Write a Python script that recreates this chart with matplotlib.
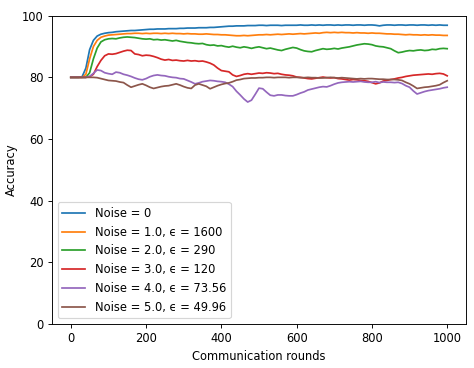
import matplotlib
matplotlib.use("Agg")
import matplotlib.pyplot as plt

rounds = list(range(0, 1001, 10))

noise_0 = [80, 80, 80, 80.2, 83, 89, 92, 93.4, 94.0, 94.3,
           94.5, 94.6, 94.8, 94.9, 95.0, 95.1, 95.2, 95.2, 95.3, 95.4,
           95.5, 95.6, 95.6, 95.7, 95.7, 95.7, 95.8, 95.8, 95.8, 95.9,
           95.9, 96.0, 96.0, 96.0, 96.1, 96.1, 96.1, 96.2, 96.2, 96.3,
           96.4, 96.5, 96.6, 96.6, 96.7, 96.7, 96.7, 96.8, 96.8, 96.8,
           96.9, 96.9, 96.8, 96.9, 96.9, 96.9, 96.8, 96.9, 96.9, 96.9,
           96.9, 97.0, 96.9, 96.9, 97.0, 96.9, 97.0, 96.9, 97.0, 97.0,
           96.9, 97.0, 96.9, 97.0, 97.0, 96.9, 97.0, 97.0, 96.9, 97.0,
           97.0, 96.9, 96.7, 96.9, 97.0, 97.0, 96.9, 97.0, 97.0, 96.9,
           97.0, 97.0, 96.9, 97.0, 97.0, 96.9, 97.0, 96.9, 97.0, 96.9,
           96.9]

noise_1 = [80, 80, 80, 80, 81, 86, 90, 92, 93, 93.4,
           93.7, 93.8, 93.9, 94.0, 94.1, 94.2, 94.2, 94.3, 94.3, 94.2,
           94.3, 94.2, 94.3, 94.3, 94.2, 94.3, 94.2, 94.3, 94.2, 94.2,
           94.1, 94.2, 94.1, 94.1, 94.0, 94.0, 94.1, 94.0, 93.9, 93.9,
           93.8, 93.8, 93.7, 93.6, 93.5, 93.5, 93.6, 93.5, 93.6, 93.7,
           93.8, 93.8, 93.9, 93.8, 93.9, 94.0, 93.9, 94.0, 94.1, 94.0,
           94.1, 94.2, 94.1, 94.2, 94.3, 94.4, 94.3, 94.5, 94.6, 94.5,
           94.6, 94.5, 94.6, 94.5, 94.5, 94.4, 94.5, 94.4, 94.4, 94.3,
           94.4, 94.3, 94.3, 94.2, 94.1, 94.1, 94.0, 94.0, 93.9, 93.8,
           93.9, 93.8, 93.8, 93.7, 93.8, 93.7, 93.8, 93.7, 93.7, 93.6,
           93.6]

noise_2 = [80, 80, 80, 80, 80, 81.5, 86, 89.5, 91.5, 92.2,
           92.5, 92.6, 92.5, 92.8, 93.0, 93.1, 93.0, 92.9, 92.7, 92.5,
           92.4, 92.5, 92.2, 92.3, 92.1, 92.2, 92.0, 91.8, 92.0, 91.7,
           91.5, 91.3, 91.2, 91.0, 90.9, 91.0, 90.6, 90.4, 90.5, 90.2,
           90.3, 90.0, 89.8, 90.1, 89.8, 89.6, 89.9, 89.7, 89.4, 89.7,
           89.9, 89.6, 89.3, 89.5, 89.2, 88.9, 88.7, 89.1, 89.4, 89.7,
           89.5, 89.0, 88.6, 88.4, 88.3, 88.7, 89.0, 89.3, 89.1, 89.2,
           89.4, 89.2, 89.5, 89.7, 89.9, 90.2, 90.5, 90.7, 90.9, 90.8,
           90.6, 90.2, 90.0, 89.9, 89.6, 89.3, 88.6, 88.0, 88.2, 88.5,
           88.7, 88.6, 88.8, 88.9, 88.7, 88.8, 89.1, 89.0, 89.3, 89.4,
           89.3]

noise_3 = [80, 80, 80, 80, 80, 80.2, 81, 83.5, 85.5, 87,
           87.6, 87.5, 87.7, 88.1, 88.5, 88.8, 88.7, 87.6, 87.4, 87.0,
           87.2, 87.1, 86.8, 86.4, 85.9, 85.6, 85.8, 85.5, 85.6, 85.4,
           85.3, 85.5, 85.3, 85.4, 85.2, 85.3, 85.0, 84.6, 84.0, 83.0,
           82.2, 82.0, 81.8, 80.8, 80.3, 80.6, 81.0, 81.2, 81.0, 81.2,
           81.4, 81.3, 81.5, 81.4, 81.2, 81.3, 81.0, 80.8, 80.7, 80.5,
           80.1, 80.0, 79.8, 79.6, 79.5, 79.7, 79.9, 80.1, 79.9, 79.8,
           79.9, 79.6, 79.5, 79.3, 79.1, 79.3, 79.2, 79.0, 78.9, 78.7,
           78.3, 77.9, 78.2, 78.8, 79.0, 79.3, 79.5, 79.8, 80.0, 80.3,
           80.5, 80.7, 80.8, 80.9, 81.0, 81.1, 81.0, 81.2, 81.3, 81.1,
           80.5]

noise_4 = [80, 80, 80, 80, 80, 80.3, 81.3, 82.4, 82.2, 81.5,
           81.2, 81.0, 81.7, 81.5, 81.0, 80.7, 80.3, 79.8, 79.4, 79.2,
           79.6, 80.2, 80.6, 80.8, 80.6, 80.5, 80.2, 80.0, 79.9, 79.6,
           79.5, 79.0, 78.5, 77.9, 78.2, 78.6, 78.8, 79.0, 78.9, 78.7,
           78.6, 78.4, 77.8, 77.0, 75.5, 74.3, 73.0, 72.0, 72.6, 74.5,
           76.5, 76.3, 75.2, 74.2, 74.0, 74.3, 74.3, 74.1, 74.0, 74.0,
           74.4, 74.9, 75.3, 75.9, 76.2, 76.5, 76.8, 77.0, 76.9, 77.3,
           77.8, 78.2, 78.4, 78.5, 78.6, 78.5, 78.6, 78.7, 78.5, 78.4,
           78.4, 78.6, 78.3, 78.5, 78.4, 78.4, 78.3, 78.4, 78.0, 77.3,
           76.8, 75.6, 74.6, 75.0, 75.4, 75.7, 75.9, 76.1, 76.3, 76.6,
           76.8]

noise_5 = [80, 80, 80, 80, 80, 80, 80, 79.9, 79.6, 79.3,
           79.0, 78.9, 78.8, 78.5, 78.3, 77.5, 76.8, 77.2, 77.6, 77.9,
           77.4, 76.8, 76.4, 76.7, 77.0, 77.2, 77.3, 77.6, 77.9, 77.5,
           77.0, 76.6, 76.4, 77.5, 77.9, 77.5, 77.1, 76.3, 76.8, 77.3,
           77.7, 78.0, 78.2, 78.6, 79.1, 79.3, 79.6, 79.7, 79.8, 79.8,
           79.9, 79.9, 80.0, 80.0, 79.9, 80.0, 80.0, 80.0, 79.9, 80.0,
           80.0, 79.9, 79.9, 80.0, 79.9, 79.9, 79.8, 79.8, 79.9, 80.0,
           79.9, 79.8, 79.9, 79.8, 79.7, 79.6, 79.5, 79.6, 79.5, 79.6,
           79.6, 79.5, 79.4, 79.4, 79.3, 79.3, 79.3, 79.2, 79.0, 78.4,
           77.9, 77.2, 76.4, 76.6, 76.8, 76.9, 77.1, 77.3, 77.6, 78.3,
           78.9]

series = [noise_0, noise_1, noise_2, noise_3, noise_4, noise_5]
labels = ["Noise = 0",
          "Noise = 1.0, \u03f5 = 1600",
          "Noise = 2.0, \u03f5 = 290",
          "Noise = 3.0, \u03f5 = 120",
          "Noise = 4.0, \u03f5 = 73.56",
          "Noise = 5.0, \u03f5 = 49.96"]

DPI = 83
fig = plt.figure(figsize=(474 / DPI, 368 / DPI), dpi=DPI)
ax = fig.add_axes([52 / 474, 44 / 368, 414 / 474, 308.3 / 368])
for s, lab in zip(series, labels):
    ax.plot(rounds, s, label=lab)
ax.set_ylim(0, 100)
ax.set_xlabel("Communication rounds")
ax.set_ylabel("Accuracy")
ax.legend(loc="lower left")
fig.savefig("out.png", dpi=DPI)
